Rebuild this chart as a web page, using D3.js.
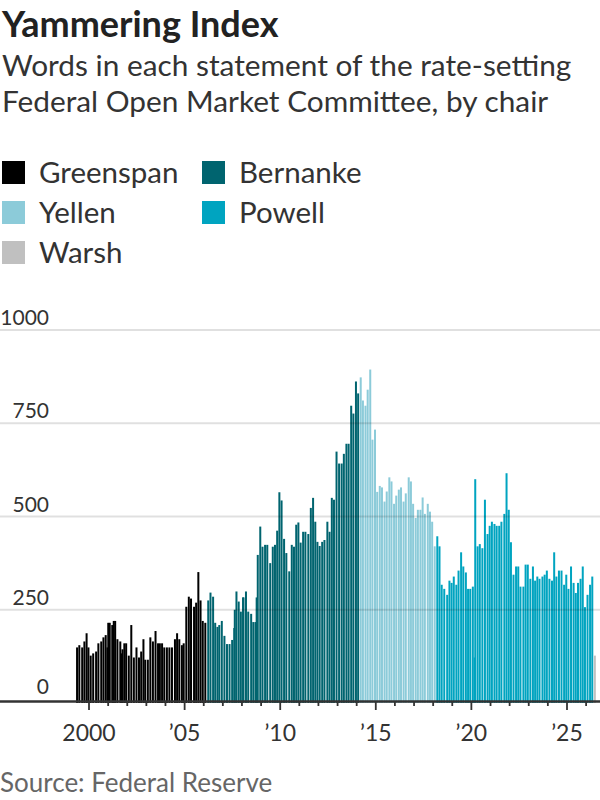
<!DOCTYPE html>
<html>
<head>
<meta charset="utf-8">
<script src="https://cdn.jsdelivr.net/npm/d3@7"></script>
<style>
  body { margin: 0; background: #fff; }
  text { font-family: Lato, "Noto Sans", sans-serif; }
</style>
</head>
<body>
<div id="chart"></div>
<script>
// chairs, in legend order
const chairs = ["Greenspan", "Bernanke", "Yellen", "Powell", "Warsh"];
const chairColors = ["#000000", "#00646f", "#8ccbd9", "#00a4c0", "#c0c0c0"];

// statement dates and word counts, one pair of arrays per chair
const greenspanDates = [
  "1999-05-18", "1999-06-30", "1999-08-24", "1999-10-05", "1999-11-16", "1999-12-21",
  "2000-02-02", "2000-03-21", "2000-05-16", "2000-06-28", "2000-08-22", "2000-10-03", "2000-11-15", "2000-12-19",
  "2001-01-03", "2001-01-31", "2001-03-20", "2001-04-18", "2001-05-15", "2001-06-27", "2001-08-21", "2001-09-17", "2001-10-02", "2001-11-06", "2001-12-11",
  "2002-01-30", "2002-03-19", "2002-05-07", "2002-06-26", "2002-08-13", "2002-09-24", "2002-11-06", "2002-12-10",
  "2003-01-29", "2003-03-18", "2003-05-06", "2003-06-25", "2003-08-12", "2003-09-16", "2003-10-28", "2003-12-09",
  "2004-01-28", "2004-03-16", "2004-05-04", "2004-06-30", "2004-08-10", "2004-09-21", "2004-11-10", "2004-12-14",
  "2005-02-02", "2005-03-22", "2005-05-03", "2005-06-30", "2005-08-09", "2005-09-20", "2005-11-01", "2005-12-13",
  "2006-01-31"
];
const greenspanWords = [
  149, 155, 149, 165, 187, 149,
  127, 133, 138, 160, 165, 176, 182, 149,
  215, 215, 209, 220, 220, 171, 165, 133, 144, 160, 160,
  127, 209, 122, 149, 122, 138, 171, 116,
  116, 176, 165, 193, 160, 160, 160, 149,
  149, 149, 149, 171, 187, 171, 155, 160,
  258, 285, 280, 258, 269, 351, 275, 220,
  215
];

const bernankeDates = [
  "2006-03-28", "2006-05-10", "2006-06-29", "2006-08-08", "2006-09-20", "2006-10-25", "2006-12-12",
  "2007-01-31", "2007-03-21", "2007-05-09", "2007-06-28", "2007-08-07", "2007-08-17", "2007-09-18", "2007-10-31", "2007-12-11",
  "2008-01-22", "2008-01-30", "2008-03-18", "2008-04-30", "2008-06-25", "2008-08-05", "2008-09-16", "2008-10-08", "2008-10-29", "2008-12-16",
  "2009-01-28", "2009-03-18", "2009-04-29", "2009-06-24", "2009-08-12", "2009-09-23", "2009-11-04", "2009-12-16",
  "2010-01-27", "2010-03-16", "2010-04-28", "2010-06-23", "2010-08-10", "2010-09-21", "2010-11-03", "2010-12-14",
  "2011-01-26", "2011-03-15", "2011-04-27", "2011-06-22", "2011-08-09", "2011-09-21", "2011-11-02", "2011-12-13",
  "2012-01-25", "2012-03-13", "2012-04-25", "2012-06-20", "2012-08-01", "2012-09-13", "2012-10-24", "2012-12-12",
  "2013-01-30", "2013-03-20", "2013-05-01", "2013-06-19", "2013-07-31", "2013-09-18", "2013-10-30", "2013-12-18",
  "2014-01-29"
];
const bernankeWords = [
  275, 296, 285, 215, 204, 209, 220,
  180, 158, 158, 169, 201, 250, 299, 272, 245,
  283, 283, 299, 245, 239, 217, 217, 283, 397, 473,
  419, 424, 424, 375, 419, 424, 462, 565,
  543, 440, 402, 353, 424, 419, 478, 484,
  430, 459, 459, 453, 523, 550, 486, 432,
  421, 432, 437, 486, 459, 550, 545, 674,
  642, 642, 668, 695, 695, 797, 776, 862,
  830
];

const yellenDates = [
  "2014-03-19", "2014-04-30", "2014-06-18", "2014-07-30", "2014-09-17", "2014-10-29", "2014-12-17",
  "2015-01-28", "2015-03-18", "2015-04-29", "2015-06-17", "2015-07-29", "2015-09-17", "2015-10-28", "2015-12-16",
  "2016-01-27", "2016-03-16", "2016-04-27", "2016-06-15", "2016-07-27", "2016-09-21", "2016-11-02", "2016-12-14",
  "2017-02-01", "2017-03-15", "2017-05-03", "2017-06-14", "2017-07-26", "2017-09-20", "2017-11-01", "2017-12-13",
  "2018-01-31"
];
const yellenWords = [
  873, 811, 797, 840, 894, 706, 733,
  566, 582, 578, 540, 567, 605, 594, 534,
  556, 572, 578, 540, 562, 605, 594, 534,
  496, 518, 518, 551, 507, 534, 513, 486,
  420
];

const powellDates = [
  "2018-03-21", "2018-05-02", "2018-06-13", "2018-08-01", "2018-09-26", "2018-11-08", "2018-12-19",
  "2019-01-30", "2019-03-20", "2019-05-01", "2019-06-19", "2019-07-31", "2019-09-18", "2019-10-30", "2019-12-11",
  "2020-01-29", "2020-03-03", "2020-03-15", "2020-04-29", "2020-06-10", "2020-07-29", "2020-09-16", "2020-11-05", "2020-12-16",
  "2021-01-27", "2021-03-17", "2021-04-28", "2021-06-16", "2021-07-28", "2021-09-22", "2021-11-03", "2021-12-15",
  "2022-01-26", "2022-03-16", "2022-05-04", "2022-06-15", "2022-07-27", "2022-09-21", "2022-11-02", "2022-12-14",
  "2023-02-01", "2023-03-22", "2023-05-03", "2023-06-14", "2023-07-26", "2023-09-20", "2023-11-01", "2023-12-13",
  "2024-01-31", "2024-03-20", "2024-05-01", "2024-06-12", "2024-07-31", "2024-09-18", "2024-11-07", "2024-12-18",
  "2025-01-29", "2025-03-19", "2025-05-07", "2025-06-18", "2025-07-30", "2025-09-17", "2025-10-29", "2025-12-10",
  "2026-01-28", "2026-03-18", "2026-04-29"
];
const powellWords = [
  447, 420, 317, 306, 290, 328, 322,
  339, 317, 355, 404, 366, 350, 306, 306,
  312, 122, 600, 420, 426, 415, 545, 453, 475,
  486, 480, 475, 475, 486, 507, 616, 518,
  431, 344, 366, 366, 312, 312, 371, 371,
  333, 366, 328, 339, 333, 339, 344, 355,
  333, 328, 404, 339, 355, 355, 317, 344,
  306, 366, 322, 295, 322, 333, 366, 257,
  290, 317, 339
];

const warshDates = ["2026-06-17"];
const warshWords = [127];

const yTicks = [0, 250, 500, 750, 1000];
const xTickYears = d3.range(2000, 2027);

// build one row per statement
const parseDate = d3.timeParse("%Y-%m-%d");
const series = [
  [greenspanDates, greenspanWords],
  [bernankeDates, bernankeWords],
  [yellenDates, yellenWords],
  [powellDates, powellWords],
  [warshDates, warshWords]
];
const statements = series.flatMap(([dates, words], i) =>
  dates.map((d, j) => ({ chair: chairs[i], date: parseDate(d), words: words[j] }))
);

const width = 600;
const height = 800;

const svg = d3
  .select("#chart")
  .append("svg")
  .attr("width", width)
  .attr("height", height)
  .attr("viewBox", `0 0 ${width} ${height}`);

// title block
svg.append("text")
  .attr("x", 2)
  .attr("y", 37)
  .attr("font-size", "36px")
  .attr("font-weight", 700)
  .attr("fill", "#222")
  .text("Yammering Index");

const subtitle = ["Words in each statement of the rate-setting", "Federal Open Market Committee, by chair"];
svg.selectAll(".subtitle")
  .data(subtitle)
  .enter()
  .append("text")
  .attr("class", "subtitle")
  .attr("x", 2)
  .attr("y", (d, i) => 76 + i * 36)
  .attr("font-size", "29.8px")
  .attr("fill", "#333")
  .text((d) => d);

// legend, two columns
const color = d3.scaleOrdinal().domain(chairs).range(chairColors);
const legend = svg.selectAll(".legend")
  .data(chairs)
  .enter()
  .append("g")
  .attr("class", "legend")
  .attr("transform", (d, i) => `translate(${2 + (i % 2) * 200}, ${161 + Math.floor(i / 2) * 40})`);

legend.append("rect")
  .attr("width", 23)
  .attr("height", 23)
  .attr("fill", (d) => color(d));

legend.append("text")
  .attr("x", 37)
  .attr("y", 22)
  .attr("font-size", "29.5px")
  .attr("fill", "#333")
  .text((d) => d);

// scales
const x = d3.scaleTime()
  .domain([new Date(2000, 0, 1), new Date(2025, 0, 1)])
  .range([89, 567]);

const y = d3.scaleLinear()
  .domain([0, 1000])
  .range([703, 330]);

// bars
svg.append("g")
  .selectAll("rect")
  .data(statements)
  .enter()
  .append("rect")
  .attr("x", (d) => x(d.date) - 1)
  .attr("width", 2)
  .attr("y", (d) => y(d.words))
  .attr("height", (d) => y(0) - y(d.words))
  .attr("fill", (d) => color(d.chair));

// gridlines over the bars, faint
svg.append("g")
  .selectAll("line")
  .data(yTicks.filter((d) => d > 0))
  .enter()
  .append("line")
  .attr("x1", 0)
  .attr("x2", width)
  .attr("y1", (d) => y(d))
  .attr("y2", (d) => y(d))
  .attr("stroke", "#000")
  .attr("stroke-opacity", 0.12)
  .attr("stroke-width", 2);

svg.append("g")
  .selectAll("text")
  .data(yTicks)
  .enter()
  .append("text")
  .attr("x", 49)
  .attr("y", (d) => (d === 0 ? y(d) - 9 : y(d) - 5))
  .attr("text-anchor", "end")
  .attr("font-size", "21px")
  .attr("fill", "#333")
  .text((d) => d);

// x axis: baseline, year ticks, labels every five years
svg.append("line")
  .attr("x1", 0)
  .attr("x2", width)
  .attr("y1", 701.5)
  .attr("y2", 701.5)
  .attr("stroke", "#333")
  .attr("stroke-width", 2.5);

svg.append("g")
  .selectAll("line")
  .data(xTickYears)
  .enter()
  .append("line")
  .attr("x1", (d) => x(new Date(d, 0, 1)))
  .attr("x2", (d) => x(new Date(d, 0, 1)))
  .attr("y1", 702)
  .attr("y2", (d) => (d % 5 === 0 ? 710 : 706))
  .attr("stroke", "#333")
  .attr("stroke-width", 1.8);

svg.append("g")
  .selectAll("text")
  .data(xTickYears.filter((d) => d % 5 === 0))
  .enter()
  .append("text")
  .attr("x", (d) => x(new Date(d, 0, 1)))
  .attr("y", 741)
  .attr("text-anchor", "middle")
  .attr("font-size", "23px")
  .attr("fill", "#333")
  .text((d) => (d === 2000 ? "2000" : "\u2019" + String(d).slice(2)));

// source
svg.append("text")
  .attr("x", 0)
  .attr("y", 792)
  .attr("font-size", "26px")
  .attr("fill", "#666")
  .text("Source: Federal Reserve");
</script>
</body>
</html>
